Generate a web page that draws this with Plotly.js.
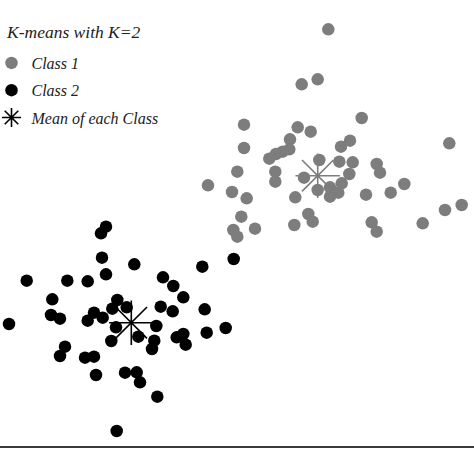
<!DOCTYPE html>
<html><head><meta charset="utf-8">
<script src="https://cdn.plot.ly/plotly-3.0.1.min.js"></script>
<style>html,body{margin:0;padding:0;background:#fff}#chart{width:474px;height:474px}</style>
</head><body><div id="chart"></div>
<script>
// Class 1 (gray) points
const class1X = [328.3,301.7,317.7,361.7,244,297.7,310.7,449.3,244,290,289.3,282.7,276,269.3,350,341,319.3,339.3,352.7,237.3,275.3,275.3,304,349.3,376.7,380,208,232,246.7,295.3,317.7,330,330,338.3,341.7,366,390.7,404.3,241.3,233.3,237.3,255,294.3,308.3,312.7,371.7,376.7,422.7,445,461.7];
const class1Y = [417.7,362.7,367.7,329,322.3,319.7,315.3,303.7,299,307.7,297.7,295.3,293,288.3,306.3,300.3,287,285.3,284.7,275.3,275.3,265.3,269.3,273,283,274.3,261.7,255,248.7,249.7,257,259.7,250.3,254.3,263.7,252.3,254.3,263,230.3,217,210.3,218.3,222,233,225.3,224.7,215.3,223.7,237,242];
// Class 2 (black) points
const class2X = [106,101,102,134.3,202.3,233.7,106,26.7,67.3,87.7,163,173.3,183.3,52.3,117.3,112.3,126.7,160.7,172.7,204.7,51,60,94,102.7,87.7,9,116,156.3,225.7,138.3,111.3,154.3,152,176.7,183.3,185.7,206.7,65,60,85,94,96,125,136.7,140,157.3,116.7];
const class2Y = [220.3,213.7,189.3,182.7,180.3,188,172.7,166.3,166.3,165.7,169.7,161,149.7,147.7,147,138.3,139.7,140.3,135.7,137.7,132,128.3,134.3,129.3,126.3,123,119.7,121,119,110.3,106,106.3,98,109.7,113,102.3,114.3,100.3,91,89.3,90.3,72,74.3,74.7,64.7,50.3,16];
// Means of each class
const mean1 = {x: [317.7], y: [271.3]};
const mean2 = {x: [131.3], y: [124.3]};

const gray = '#7d7d7d';
const serif = 'Liberation Serif, Times New Roman, serif';

const traces = [
  {type:'scatter', mode:'markers', name:'Class 1', x:class1X, y:class1Y, legendgroup:'a',
   marker:{color:gray, size:12.5, line:{width:0}}, cliponaxis:false},
  {type:'scatter', mode:'markers', name:'Class 2', x:class2X, y:class2Y, legendgroup:'b',
   marker:{color:'#000', size:12.5, line:{width:0}}, cliponaxis:false},
  {type:'scatter', mode:'markers', name:'Mean of each Class', x:mean2.x, y:mean2.y, legendgroup:'c',
   marker:{symbol:'asterisk', size:37, color:'#000', line:{color:'#000', width:1.6}}, cliponaxis:false},
  {type:'scatter', mode:'markers', name:'Mean of each Class', x:mean1.x, y:mean1.y, legendgroup:'c', showlegend:false,
   marker:{symbol:'asterisk', size:37, color:gray, line:{color:gray, width:1.6}}, cliponaxis:false}
];

const layout = {
  width:474, height:474,
  margin:{l:0, r:0, t:0, b:27, pad:0, autoexpand:false},
  paper_bgcolor:'#fff', plot_bgcolor:'#fff',
  showlegend:true,
  title:{text:'K-means with K=2', x:7/474, xanchor:'left', xref:'container', yref:'container', y:1-32/474, yanchor:'middle',
         font:{family:serif, size:17.5, style:'italic', color:'#222'}},
  legend:{xref:'paper', yref:'paper', x:-8.5/474, y:1-46/447, xanchor:'left', yanchor:'top', bgcolor:'rgba(0,0,0,0)',
          font:{family:serif, size:16, style:'italic', color:'#222'}, itemwidth:30, tracegroupgap:3.5, itemsizing:'trace'},
  xaxis:{range:[0,474], showgrid:false, zeroline:false, showticklabels:false, ticks:'', showline:false, fixedrange:true},
  yaxis:{range:[0,447], showgrid:false, zeroline:false, showticklabels:false, ticks:'', showline:false, fixedrange:true},
  shapes:[{type:'line', xref:'paper', yref:'paper', x0:0, x1:1, y0:0, y1:0, line:{color:'#3a3a3a', width:2}}]
};

Plotly.newPlot('chart', traces, layout, {displayModeBar:false, staticPlot:true});
</script>
</body></html>
